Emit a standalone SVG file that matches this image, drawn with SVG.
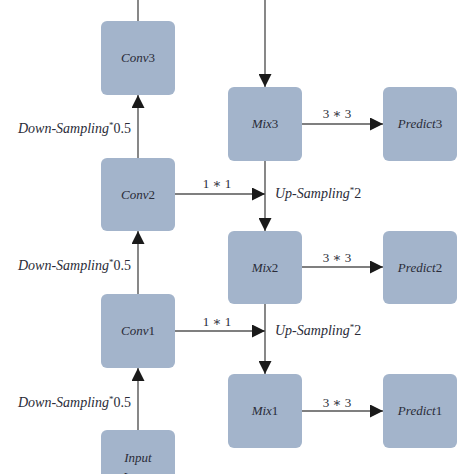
<svg xmlns="http://www.w3.org/2000/svg" width="474" height="474" viewBox="0 0 474 474">
<style>
.box{fill:#a3b4cb;}
.t{font-family:'Liberation Serif','DejaVu Serif','Times New Roman',serif;font-size:13px;fill:#2a2c38;}
.l{font-size:14px;}
.i{font-style:italic;}
.c{stroke:#555;stroke-width:1.4;fill:none;}
</style>
<defs>
<marker id="ah" markerUnits="userSpaceOnUse" markerWidth="14" markerHeight="13" refX="13" refY="6.5" orient="auto">
<path d="M0,0 L13,6.5 L0,13 Z" fill="#1a1a1a"/>
</marker>
</defs>
<rect width="474" height="474" fill="#fff"/>
<g id="connectors">
<line class="c" x1="138" y1="0" x2="138" y2="21"/>
<line class="c" x1="138" y1="158" x2="138" y2="95" marker-end="url(#ah)"/>
<line class="c" x1="138" y1="294" x2="138" y2="231" marker-end="url(#ah)"/>
<line class="c" x1="138" y1="430" x2="138" y2="368" marker-end="url(#ah)"/>
<line class="c" x1="265" y1="0" x2="265" y2="87" marker-end="url(#ah)"/>
<line class="c" x1="265" y1="161" x2="265" y2="231" marker-end="url(#ah)"/>
<line class="c" x1="265" y1="304" x2="265" y2="374" marker-end="url(#ah)"/>
<line class="c" x1="175" y1="194" x2="265" y2="194" marker-end="url(#ah)"/>
<line class="c" x1="175" y1="331" x2="265" y2="331" marker-end="url(#ah)"/>
<line class="c" x1="302" y1="124" x2="383" y2="124" marker-end="url(#ah)"/>
<line class="c" x1="302" y1="267" x2="383" y2="267" marker-end="url(#ah)"/>
<line class="c" x1="302" y1="411" x2="383" y2="411" marker-end="url(#ah)"/>
<text class="t l" x="131" y="133" text-anchor="end"><tspan class="i">Down-Sampling</tspan><tspan font-size="9" dy="-5">*</tspan><tspan dy="5">0.5</tspan></text>
<text class="t l" x="131" y="270" text-anchor="end"><tspan class="i">Down-Sampling</tspan><tspan font-size="9" dy="-5">*</tspan><tspan dy="5">0.5</tspan></text>
<text class="t l" x="131" y="407" text-anchor="end"><tspan class="i">Down-Sampling</tspan><tspan font-size="9" dy="-5">*</tspan><tspan dy="5">0.5</tspan></text>
<text class="t l" x="275" y="198"><tspan class="i">Up-Sampling</tspan><tspan font-size="9" dy="-5">*</tspan><tspan dy="5">2</tspan></text>
<text class="t l" x="275" y="335"><tspan class="i">Up-Sampling</tspan><tspan font-size="9" dy="-5">*</tspan><tspan dy="5">2</tspan></text>
<text class="t" x="217" y="188" text-anchor="middle">1 ∗ 1</text>
<text class="t" x="217" y="326" text-anchor="middle">1 ∗ 1</text>
<text class="t" x="337" y="118" text-anchor="middle">3 ∗ 3</text>
<text class="t" x="337" y="262" text-anchor="middle">3 ∗ 3</text>
<text class="t" x="337" y="407" text-anchor="middle">3 ∗ 3</text>
</g>
<g id="conv3"><rect class="box" x="101" y="21" width="74" height="74" rx="6"/><text class="t" x="138" y="62" text-anchor="middle"><tspan class="i">Conv</tspan>3</text></g>
<g id="conv2"><rect class="box" x="101" y="158" width="74" height="73" rx="6"/><text class="t" x="138" y="199" text-anchor="middle"><tspan class="i">Conv</tspan>2</text></g>
<g id="conv1"><rect class="box" x="101" y="294" width="74" height="74" rx="6"/><text class="t" x="138" y="335" text-anchor="middle"><tspan class="i">Conv</tspan>1</text></g>
<g id="input"><rect class="box" x="101" y="430" width="74" height="74" rx="6"/><text class="t i" x="138" y="462" text-anchor="middle">Input</text><text class="t i" x="138" y="481" text-anchor="middle">Layer</text></g>
<g id="mix3"><rect class="box" x="228" y="87" width="74" height="74" rx="6"/><text class="t" x="265" y="128" text-anchor="middle"><tspan class="i">Mix</tspan>3</text></g>
<g id="mix2"><rect class="box" x="228" y="231" width="74" height="73" rx="6"/><text class="t" x="265" y="272" text-anchor="middle"><tspan class="i">Mix</tspan>2</text></g>
<g id="mix1"><rect class="box" x="228" y="374" width="74" height="74" rx="6"/><text class="t" x="265" y="415" text-anchor="middle"><tspan class="i">Mix</tspan>1</text></g>
<g id="predict3"><rect class="box" x="383" y="87" width="74" height="74" rx="6"/><text class="t" x="420" y="128" text-anchor="middle"><tspan class="i">Predict</tspan>3</text></g>
<g id="predict2"><rect class="box" x="383" y="231" width="74" height="73" rx="6"/><text class="t" x="420" y="272" text-anchor="middle"><tspan class="i">Predict</tspan>2</text></g>
<g id="predict1"><rect class="box" x="383" y="374" width="74" height="74" rx="6"/><text class="t" x="420" y="415" text-anchor="middle"><tspan class="i">Predict</tspan>1</text></g>
</svg>
